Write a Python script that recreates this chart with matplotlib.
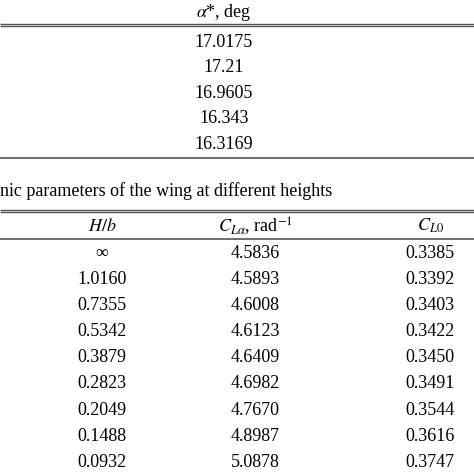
import matplotlib
matplotlib.use("Agg")
import matplotlib.pyplot as plt

alpha_star = ["17.0175", "17.21", "16.9605", "16.343", "16.3169"]
caption = "nic parameters of the wing at different heights"
headers = ["$H/b$", "$C_{L\\alpha}$, rad$^{-1}$", "$C_{L0}$"]
h_b = ["∞", "1.0160", "0.7355", "0.5342", "0.3879", "0.2823", "0.2049", "0.1488", "0.0932"]
cla = ["4.5836", "4.5893", "4.6008", "4.6123", "4.6409", "4.6982", "4.7670", "4.8987", "5.0878"]
cl0 = ["0.3385", "0.3392", "0.3403", "0.3422", "0.3450", "0.3491", "0.3544", "0.3616", "0.3747"]

plt.rcParams['font.family'] = ['Liberation Serif', 'DejaVu Serif']
plt.rcParams['mathtext.fontset'] = 'stix'
fig = plt.figure(figsize=(4.74, 4.74), dpi=100)
ax = fig.add_axes([0, 0, 1, 1])
ax.set_xlim(0, 474); ax.set_ylim(474, 0); ax.axis('off')
fs = 13
lc = '#555555'

def hline(y, lw=1.0):
    ax.plot([0, 474], [y, y], color=lc, lw=lw, solid_capstyle='butt')

ax.text(224, 12, "$\\alpha$*, deg", ha='center', va='center', fontsize=fs)
hline(23.5); hline(26)
for i, v in enumerate(alpha_star):
    ax.text(224, 42 + i * 25.6, v, ha='center', va='center', fontsize=fs)
hline(158, 1.2)

ax.text(0, 191, caption, ha='left', va='center', fontsize=fs)
hline(209.5); hline(212)
cx = [102, 255, 430]
for x, h in zip(cx, headers):
    ax.text(x, 226, h, ha='center', va='center', fontsize=fs)
hline(239, 1.2)
for i in range(len(h_b)):
    y = 253 + i * 26.2
    for x, col in zip(cx, [h_b, cla, cl0]):
        ax.text(x, y, col[i], ha='center', va='center', fontsize=fs)

fig.savefig("out.png", dpi=100)
